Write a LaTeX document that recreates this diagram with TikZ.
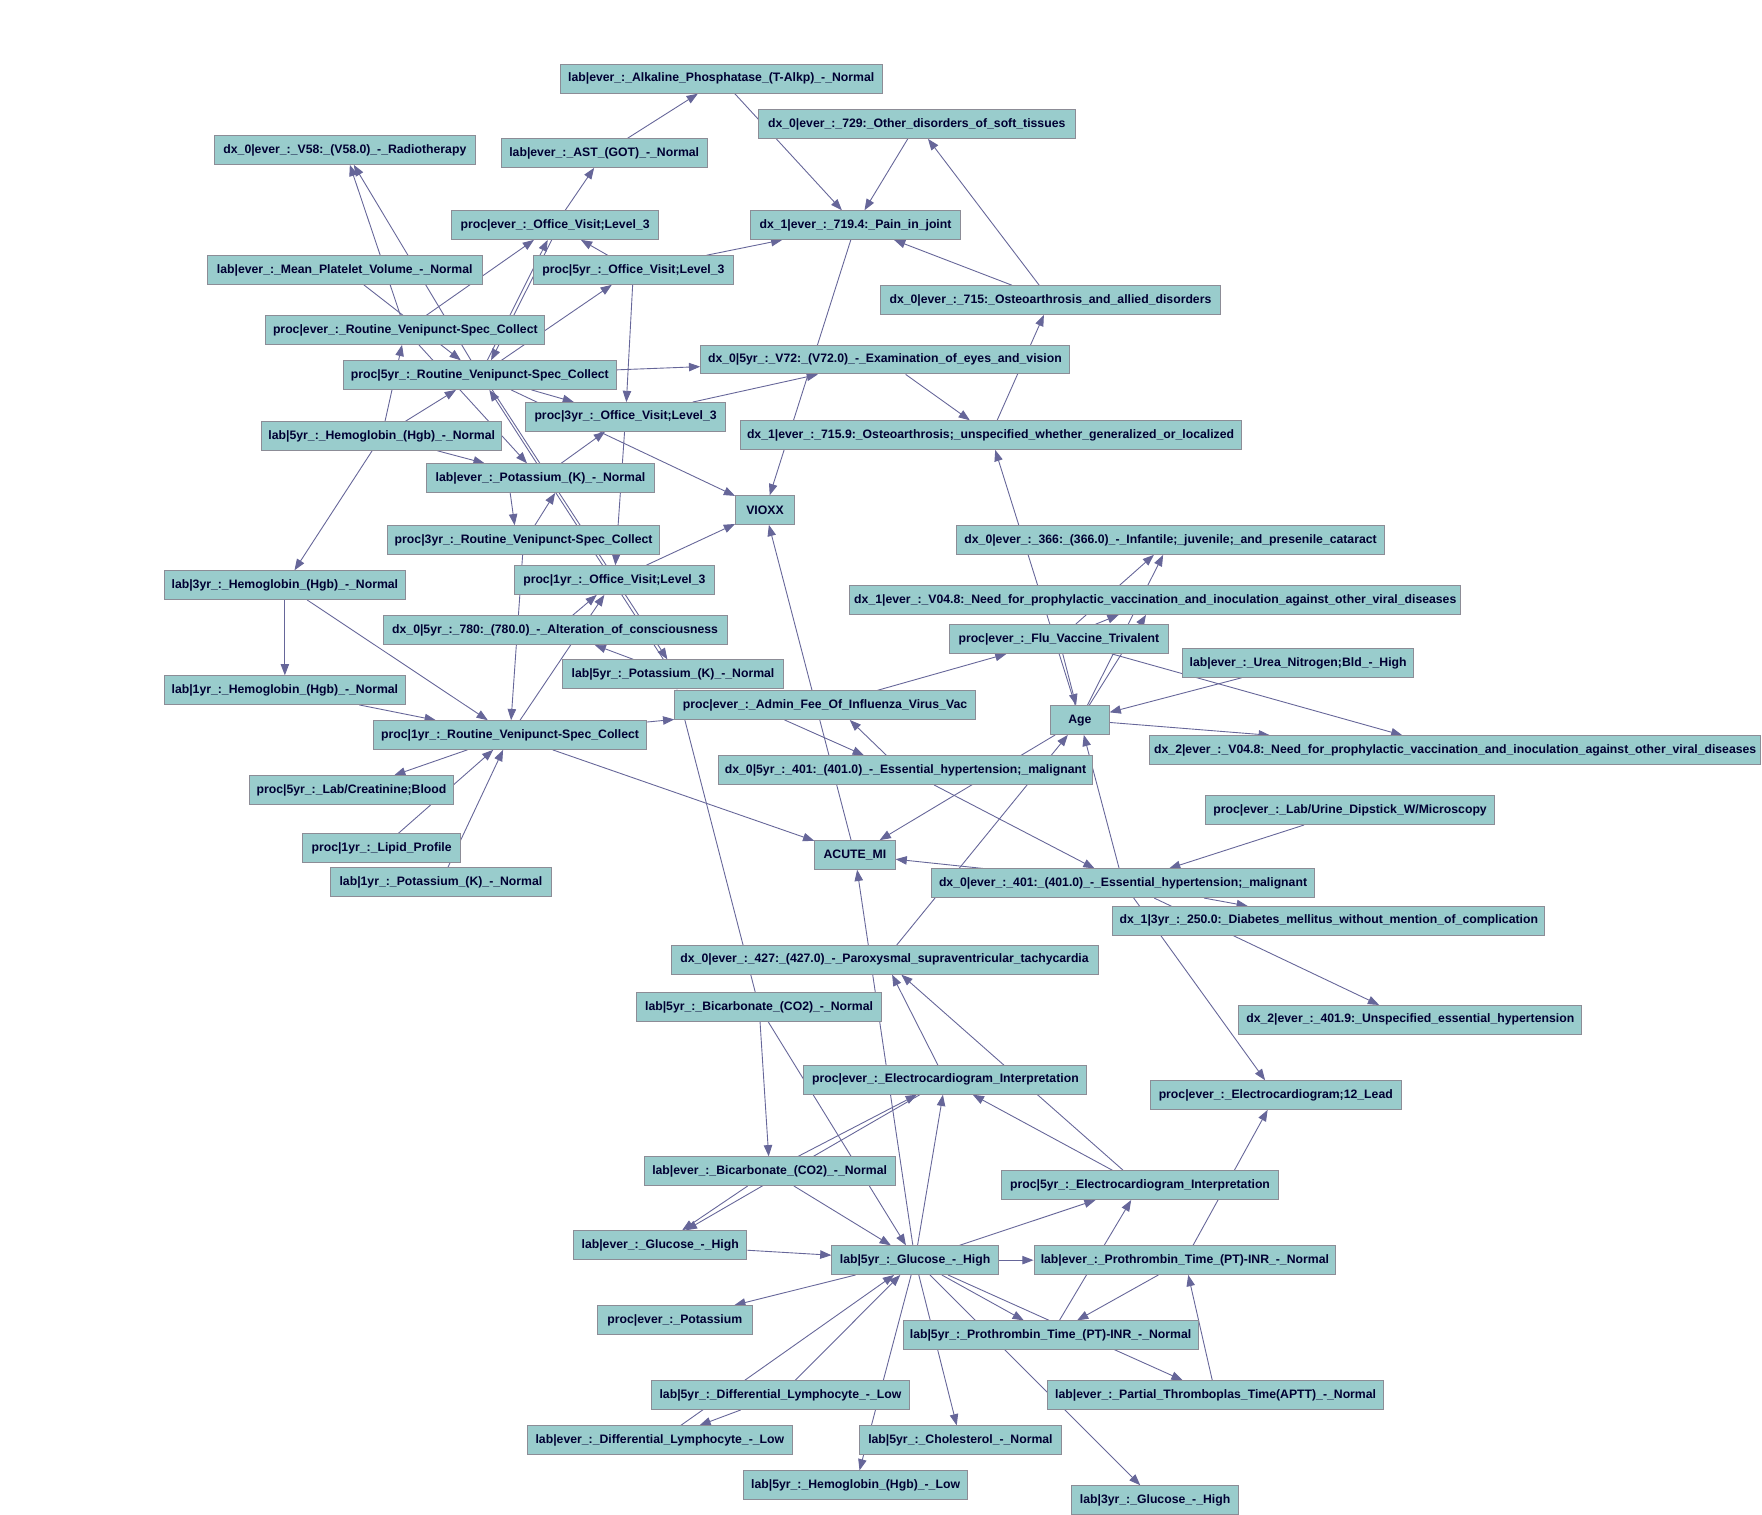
\documentclass[tikz,border=0pt]{standalone}
\usepackage{fontspec}
\setmainfont{Liberation Sans}
\usetikzlibrary{arrows.meta}
\definecolor{boxfill}{RGB}{153,204,204}
\definecolor{boxline}{RGB}{140,140,150}
\definecolor{boxtext}{RGB}{0,0,51}
\definecolor{linkcol}{RGB}{102,102,153}
\pgfdeclarelayer{edges}
\pgfsetlayers{edges,main}
\begin{document}
\begin{tikzpicture}[x=0.02cm, y=-0.02cm,
    box/.style={rectangle, fill=boxfill, draw=boxline, line width=0.5pt, text=boxtext,
      font=\fontsize{6.2}{7}\selectfont\bfseries, minimum height=0.51cm, inner xsep=0.08cm, inner ysep=0pt},
    link/.style={draw=linkcol, line width=0.45pt, -{Triangle[length=0.2cm, width=0.15cm]}}]
  \useasboundingbox (0,0) rectangle (1568,1348);

  \node[box, minimum width=5.73cm](alkp) at (641.8,70.2) {lab|ever\_:\_Alkaline\_Phosphatase\_(T-Alkp)\_-\_Normal};
  \node[box, minimum width=5.64cm](dx729) at (815.8,110.4) {dx\_0|ever\_:\_729:\_Other\_disorders\_of\_soft\_tissues};
  \node[box, minimum width=4.65cm](radio) at (306.9,133.5) {dx\_0|ever\_:\_V58:\_(V58.0)\_-\_Radiotherapy};
  \node[box, minimum width=3.66cm](ast) at (537.7,136.2) {lab|ever\_:\_AST\_(GOT)\_-\_Normal};
  \node[box, minimum width=3.68cm](offE) at (494,200.3) {proc|ever\_:\_Office\_Visit;Level\_3};
  \node[box, minimum width=3.74cm](pain) at (761.3,200.3) {dx\_1|ever\_:\_719.4:\_Pain\_in\_joint};
  \node[box, minimum width=4.89cm](mpv) at (306.8,240.3) {lab|ever\_:\_Mean\_Platelet\_Volume\_-\_Normal};
  \node[box, minimum width=3.55cm](off5) at (563.7,240.3) {proc|5yr\_:\_Office\_Visit;Level\_3};
  \node[box, minimum width=6.05cm](dx715) at (934.8,267) {dx\_0|ever\_:\_715:\_Osteoarthrosis\_and\_allied\_disorders};
  \node[box, minimum width=4.97cm](routE) at (360.7,293.7) {proc|ever\_:\_Routine\_Venipunct-Spec\_Collect};
  \node[box, minimum width=6.56cm](v72) at (787.5,320) {dx\_0|5yr\_:\_V72:\_(V72.0)\_-\_Examination\_of\_eyes\_and\_vision};
  \node[box, minimum width=4.85cm](r5) at (427,333.8) {proc|5yr\_:\_Routine\_Venipunct-Spec\_Collect};
  \node[box, minimum width=3.55cm](off3) at (556.7,371) {proc|3yr\_:\_Office\_Visit;Level\_3};
  \node[box, minimum width=8.92cm](dx7159) at (881.5,387.2) {dx\_1|ever\_:\_715.9:\_Osteoarthrosis;\_unspecified\_whether\_generalized\_or\_localized};
  \node[box, minimum width=4.28cm](hgb5) at (339.7,388) {lab|5yr\_:\_Hemoglobin\_(Hgb)\_-\_Normal};
  \node[box, minimum width=4.05cm](kE) at (481,425.5) {lab|ever\_:\_Potassium\_(K)\_-\_Normal};
  \node[box, minimum width=1.05cm](vioxx) at (680.8,453.9) {VIOXX};
  \node[box, minimum width=4.85cm](r3) at (466,480.6) {proc|3yr\_:\_Routine\_Venipunct-Spec\_Collect};
  \node[box, minimum width=7.61cm](cat) at (1041.7,480.6) {dx\_0|ever\_:\_366:\_(366.0)\_-\_Infantile;\_juvenile;\_and\_presenile\_cataract};
  \node[box, minimum width=3.56cm](off1) at (546.7,516.2) {proc|1yr\_:\_Office\_Visit;Level\_3};
  \node[box, minimum width=4.29cm](hgb3) at (253.5,520.7) {lab|3yr\_:\_Hemoglobin\_(Hgb)\_-\_Normal};
  \node[box, minimum width=10.88cm](vacc1) at (1028.1,534) {dx\_1|ever\_:\_V04.8:\_Need\_for\_prophylactic\_vaccination\_and\_inoculation\_against\_other\_viral\_diseases};
  \node[box, minimum width=6.12cm](alter) at (494,560.7) {dx\_0|5yr\_:\_780:\_(780.0)\_-\_Alteration\_of\_consciousness};
  \node[box, minimum width=3.89cm](flu) at (942.3,568.7) {proc|ever\_:\_Flu\_Vaccine\_Trivalent};
  \node[box, minimum width=4.10cm](urea) at (1155.2,590) {lab|ever\_:\_Urea\_Nitrogen;Bld\_-\_High};
  \node[box, minimum width=3.93cm](k5) at (598.9,600) {lab|5yr\_:\_Potassium\_(K)\_-\_Normal};
  \node[box, minimum width=4.29cm](hgb1) at (253.5,614.1) {lab|1yr\_:\_Hemoglobin\_(Hgb)\_-\_Normal};
  \node[box, minimum width=5.35cm](admin) at (734.2,627.5) {proc|ever\_:\_Admin\_Fee\_Of\_Influenza\_Virus\_Vac};
  \node[box, minimum width=1.04cm](age) at (961,640.8) {Age};
  \node[box, minimum width=4.86cm](r1) at (453.9,654.1) {proc|1yr\_:\_Routine\_Venipunct-Spec\_Collect};
  \node[box, minimum width=10.88cm](vacc2) at (1295,667.5) {dx\_2|ever\_:\_V04.8:\_Need\_for\_prophylactic\_vaccination\_and\_inoculation\_against\_other\_viral\_diseases};
  \node[box, minimum width=6.67cm](htn5) at (805.8,685.3) {dx\_0|5yr\_:\_401:\_(401.0)\_-\_Essential\_hypertension;\_malignant};
  \node[box, minimum width=3.63cm](creat) at (312.8,703.1) {proc|5yr\_:\_Lab/Creatinine;Blood};
  \node[box, minimum width=5.14cm](urine) at (1201.4,721) {proc|ever\_:\_Lab/Urine\_Dipstick\_W/Microscopy};
  \node[box, minimum width=2.81cm](lipid) at (339.6,754.7) {proc|1yr\_:\_Lipid\_Profile};
  \node[box, minimum width=1.43cm](acute) at (760.8,760.8) {ACUTE\_MI};
  \node[box, minimum width=3.94cm](k1) at (392.4,785) {lab|1yr\_:\_Potassium\_(K)\_-\_Normal};
  \node[box, minimum width=6.82cm](htnE) at (999.4,786) {dx\_0|ever\_:\_401:\_(401.0)\_-\_Essential\_hypertension;\_malignant};
  \node[box, minimum width=7.69cm](diab) at (1182.5,819.5) {dx\_1|3yr\_:\_250.0:\_Diabetes\_mellitus\_without\_mention\_of\_complication};
  \node[box, minimum width=7.60cm](tachy) at (787.2,854.2) {dx\_0|ever\_:\_427:\_(427.0)\_-\_Paroxysmal\_supraventricular\_tachycardia};
  \node[box, minimum width=4.35cm](bic5) at (675.5,896.1) {lab|5yr\_:\_Bicarbonate\_(CO2)\_-\_Normal};
  \node[box, minimum width=6.11cm](htn2) at (1255,907.5) {dx\_2|ever\_:\_401.9:\_Unspecified\_essential\_hypertension};
  \node[box, minimum width=5.04cm](ecgE) at (841.3,961) {proc|ever\_:\_Electrocardiogram\_Interpretation};
  \node[box, minimum width=4.47cm](ecg12) at (1135.3,974.5) {proc|ever\_:\_Electrocardiogram;12\_Lead};
  \node[box, minimum width=4.47cm](bicE) at (684.9,1042.2) {lab|ever\_:\_Bicarbonate\_(CO2)\_-\_Normal};
  \node[box, minimum width=4.92cm](ecg5) at (1014.5,1054.7) {proc|5yr\_:\_Electrocardiogram\_Interpretation};
  \node[box, minimum width=3.09cm](glcE) at (587.5,1108) {lab|ever\_:\_Glucose\_-\_High};
  \node[box, minimum width=2.96cm](g5) at (814.3,1121.4) {lab|5yr\_:\_Glucose\_-\_High};
  \node[box, minimum width=5.37cm](ptE) at (1054.4,1121.4) {lab|ever\_:\_Prothrombin\_Time\_(PT)-INR\_-\_Normal};
  \node[box, minimum width=2.75cm](kproc) at (600.5,1174.7) {proc|ever\_:\_Potassium};
  \node[box, minimum width=5.25cm](pt5) at (934.9,1188.2) {lab|5yr\_:\_Prothrombin\_Time\_(PT)-INR\_-\_Normal};
  \node[box, minimum width=4.59cm](diff5) at (694.5,1241.5) {lab|5yr\_:\_Differential\_Lymphocyte\_-\_Low};
  \node[box, minimum width=5.98cm](aptt) at (1081.8,1241.5) {lab|ever\_:\_Partial\_Thromboplas\_Time(APTT)\_-\_Normal};
  \node[box, minimum width=4.71cm](diffE) at (587.2,1281.6) {lab|ever\_:\_Differential\_Lymphocyte\_-\_Low};
  \node[box, minimum width=3.58cm](chol) at (854.7,1281.6) {lab|5yr\_:\_Cholesterol\_-\_Normal};
  \node[box, minimum width=3.98cm](hgbL) at (761.4,1321.7) {lab|5yr\_:\_Hemoglobin\_(Hgb)\_-\_Low};
  \node[box, minimum width=2.96cm](glc3) at (1027.9,1334.9) {lab|3yr\_:\_Glucose\_-\_High};

  \begin{pgfonlayer}{edges}
    \fill[white] (0,0) rectangle (1568,1348);
    \draw[link] (ast) -- (alkp);
    \draw[link] (alkp) -- (pain);
    \draw[link] (dx729) -- (pain);
    \draw[link] (dx715) -- (dx729);
    \draw[link] (dx715) -- (pain);
    \draw[link] (dx7159) -- (dx715);
    \draw[link] (v72) -- (dx7159);
    \draw[link] (pain) -- (vioxx);
    \draw[link] (offE) -- (ast);
    \draw[link] (off5) -- (pain);
    \draw[link] (off5) -- (offE);
    \draw[link] (r5) -- (off5);
    \draw[link] (off5) -- (off3);
    \draw[link] (r5) -- (v72);
    \draw[link] (r5) -- (off3);
    \draw[link] (r5) -- (vioxx);
    \draw[link] (off3) -- (v72);
    \draw[link] (routE) -- (radio);
    \draw[link] (r5) -- (radio);
    \draw[link] (mpv) -- (r5);
    \draw[link] (routE) -- (offE);
    \draw[link] (r5) -- (offE);
    \draw[link] ([xshift=-0.06cm]offE.south) -- ([xshift=0.2cm]r5.north);
    \draw[link] (hgb5) -- (routE);
    \draw[link] (hgb5) -- (r5);
    \draw[link] (hgb5) -- (hgb3);
    \draw[link] (hgb5) -- (kE);
    \draw[link] (routE) -- (kE);
    \draw[link] (k5) -- (r5);
    \draw[link] ([xshift=0.22cm]r5.south) -- ([xshift=-0.1cm]k5.north);
    \draw[link] (kE) -- (off3);
    \draw[link] ([xshift=-0.54cm]kE.south) -- ([xshift=-0.16cm]r3.north);
    \draw[link] ([xshift=0.2cm]r3.north) -- ([xshift=0.26cm]kE.south);
    \draw[link] (off3) -- (off1);
    \draw[link] (off1) -- (vioxx);
    \draw[link] (r3) -- (r1);
    \draw[link] (r1) -- (off1);
    \draw[link] (alter) -- (off1);
    \draw[link] (k5) -- (alter);
    \draw[link] (hgb3) -- (hgb1);
    \draw[link] (hgb3) -- (r1);
    \draw[link] (hgb1) -- (r1);
    \draw[link] (r1) -- (creat);
    \draw[link] (lipid) -- (r1);
    \draw[link] (k1) -- (r1);
    \draw[link] (r1) -- (admin);
    \draw[link] (r1) -- (acute);
    \draw[link] (admin) -- (flu);
    \draw[link] ([xshift=-0.72cm]admin.south) -- ([xshift=-0.74cm]htn5.north);
    \draw[link] ([xshift=-0.34cm]htn5.north) -- ([xshift=0.44cm]admin.south);
    \draw[link] (acute) -- (vioxx);
    \draw[link] (bic5) -- (k5);
    \draw[link] (flu) -- (vacc2);
    \draw[link] (flu) -- (age);
    \draw[link] (age) -- (dx7159);
    \draw[link] (age) -- (vacc1);
    \draw[link] (flu) -- (vacc1);
    \draw[link] (age) -- (cat);
    \draw[link] (flu) -- (cat);
    \draw[link] (urea) -- (age);
    \draw[link] (age) -- (vacc2);
    \draw[link] (tachy) -- (age);
    \draw[link] (age) -- (acute);
    \draw[link] (htn5) -- (htnE);
    \draw[link] (htnE) -- (age);
    \draw[link] (urine) -- (htnE);
    \draw[link] (htnE) -- (acute);
    \draw[link] (htnE) -- (diab);
    \draw[link] (htnE) -- (ecg12);
    \draw[link] (htnE) -- (htn2);
    \draw[link] (g5) -- (acute);
    \draw[link] (bic5) -- (bicE);
    \draw[link] (bic5) -- (g5);
    \draw[link] (ecgE) -- (tachy);
    \draw[link] (ecg5) -- (tachy);
    \draw[link] (ecg5) -- (ecgE);
    \draw[link] (bicE) -- (ecgE);
    \draw[link] (bicE) -- (glcE);
    \draw[link] (ecgE) -- (glcE);
    \draw[link] (g5) -- (ecgE);
    \draw[link] (bicE) -- (g5);
    \draw[link] (glcE) -- (g5);
    \draw[link] (g5) -- (ptE);
    \draw[link] (g5) -- (kproc);
    \draw[link] (diff5) -- (g5);
    \draw[link] (diffE) -- (g5);
    \draw[link] (diff5) -- (diffE);
    \draw[link] (g5) -- (hgbL);
    \draw[link] (g5) -- (chol);
    \draw[link] (g5) -- (pt5);
    \draw[link] (g5) -- (glc3);
    \draw[link] (g5) -- (aptt);
    \draw[link] (ptE) -- (pt5);
    \draw[link] (aptt) -- (ptE);
    \draw[link] (pt5) -- (ecg5);
    \draw[link] (g5) -- (ecg5);
    \draw[link] (ptE) -- (ecg12);
  \end{pgfonlayer}
\end{tikzpicture}
\end{document}
